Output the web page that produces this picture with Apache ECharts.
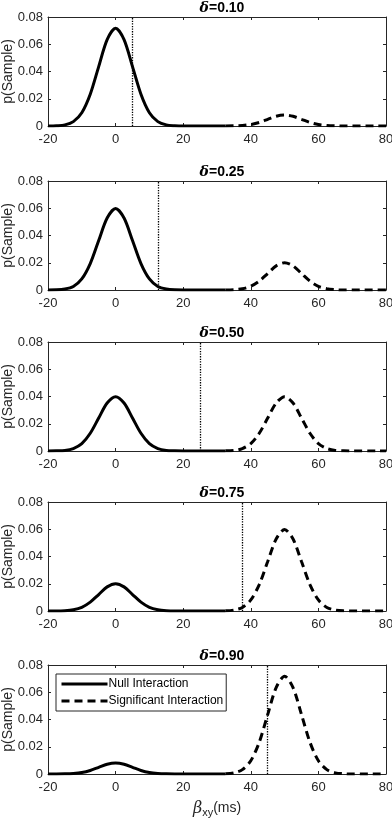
<!DOCTYPE html>
<html>
<head>
<meta charset="utf-8">
<script src="https://cdn.jsdelivr.net/npm/echarts@6/dist/echarts.min.js"></script>
<style>
  html, body { margin: 0; padding: 0; background: #fff; }
  #chart { width: 392px; height: 820px; }
</style>
</head>
<body>
<div id="chart"></div>
<script>
// panel labels (delta) and where the dotted criterion line sits
const DELTAS = ['0.10', '0.25', '0.50', '0.75', '0.90'];
const THRESHOLDS = [5, 12.5, 25, 37.5, 45];

const X_TICKS = [-20, 0, 20, 40, 60, 80];
const Y_TICKS = [0, 0.02, 0.04, 0.06, 0.08];

// x positions of the sampled curves (null: solid, significant: dashed)
const NULL_X = [-20, -17.5, -15, -12.5, -10, -7.5, -5, -2.5, 0, 2.5, 5, 7.5, 10, 12.5, 15, 17.5, 20, 22.5, 25, 27.5, 30, 32.5];
const SIG_X = [32.5, 35, 37.5, 40, 42.5, 45, 47.5, 50, 52.5, 55, 57.5, 60, 62.5, 65, 67.5, 70, 72.5, 75, 77.5, 80];

// null interaction densities, one row per panel
const NULL_010 = [0, 0.0002, 0.0008, 0.0032, 0.0097, 0.0233, 0.0436, 0.0634, 0.0718, 0.0634, 0.0436, 0.0233, 0.0097, 0.0032, 0.0008, 0.0002, 0, 0, 0, 0, 0, 0];
const NULL_025 = [0, 0.0001, 0.0007, 0.0026, 0.0081, 0.0194, 0.0363, 0.0528, 0.0598, 0.0528, 0.0363, 0.0194, 0.0081, 0.0026, 0.0007, 0.0001, 0, 0, 0, 0, 0, 0];
const NULL_050 = [0, 0.0001, 0.0004, 0.0018, 0.0054, 0.0130, 0.0242, 0.0352, 0.0399, 0.0352, 0.0242, 0.0130, 0.0054, 0.0018, 0.0004, 0.0001, 0, 0, 0, 0, 0, 0];
const NULL_075 = [0, 0, 0.0002, 0.0009, 0.0027, 0.0065, 0.0121, 0.0177, 0.0200, 0.0177, 0.0121, 0.0065, 0.0027, 0.0009, 0.0002, 0, 0, 0, 0, 0, 0, 0];
const NULL_090 = [0, 0, 0.0001, 0.0004, 0.0011, 0.0026, 0.0049, 0.0071, 0.0080, 0.0071, 0.0049, 0.0026, 0.0011, 0.0004, 0.0001, 0, 0, 0, 0, 0, 0, 0];

// significant interaction densities
const SIG_010 = [0, 0.0001, 0.0004, 0.0011, 0.0026, 0.0049, 0.0071, 0.0080, 0.0071, 0.0049, 0.0026, 0.0011, 0.0004, 0.0001, 0, 0, 0, 0, 0, 0];
const SIG_025 = [0, 0.0002, 0.0009, 0.0027, 0.0065, 0.0121, 0.0177, 0.0200, 0.0177, 0.0121, 0.0065, 0.0027, 0.0009, 0.0002, 0, 0, 0, 0, 0, 0];
const SIG_050 = [0.0001, 0.0004, 0.0018, 0.0054, 0.0130, 0.0242, 0.0352, 0.0399, 0.0352, 0.0242, 0.0130, 0.0054, 0.0018, 0.0004, 0.0001, 0, 0, 0, 0, 0];
const SIG_075 = [0.0001, 0.0007, 0.0026, 0.0081, 0.0194, 0.0363, 0.0528, 0.0598, 0.0528, 0.0363, 0.0194, 0.0081, 0.0026, 0.0007, 0.0001, 0, 0, 0, 0, 0];
const SIG_090 = [0.0002, 0.0008, 0.0032, 0.0097, 0.0233, 0.0436, 0.0634, 0.0718, 0.0634, 0.0436, 0.0233, 0.0097, 0.0032, 0.0008, 0.0002, 0, 0, 0, 0, 0];

const NULL_ROWS = [NULL_010, NULL_025, NULL_050, NULL_075, NULL_090];
const SIG_ROWS = [SIG_010, SIG_025, SIG_050, SIG_075, SIG_090];

// layout
const GRID_TOPS = [17, 181, 342, 502, 665];
const GRID_H = 109;
const GRID_LEFT = 48;
const GRID_RIGHT = 6;
const INK = '#262626';
const FONT = '"Liberation Sans", Arial, sans-serif';

const chart = echarts.init(document.getElementById('chart'));

const grids = [], xAxes = [], yAxes = [], titles = [], series = [];

GRID_TOPS.forEach((top, k) => {
  grids.push({ left: GRID_LEFT, right: GRID_RIGHT, top: top, height: GRID_H, outerBoundsMode: 'none', containLabel: false });

  const xBase = {
    gridIndex: k, type: 'value',
    min: X_TICKS[0], max: X_TICKS[X_TICKS.length - 1], interval: 20,
    axisLine: { show: true, onZero: false, lineStyle: { color: INK, width: 1 } },
    axisTick: { show: true, inside: true, length: 3, lineStyle: { color: INK } },
    splitLine: { show: false }
  };
  xAxes.push(Object.assign({}, xBase, {
    position: 'bottom',
    axisLabel: { color: INK, fontSize: 13, fontFamily: FONT, margin: 7 },
    name: k === 4 ? '{b|β}{s|xy}{n|(ms)}' : '',
    nameLocation: 'middle',
    nameGap: 25,
    nameMoveOverlap: false,
    nameTextStyle: {
      rich: {
        b: { fontFamily: '"DejaVu Serif", serif', fontStyle: 'italic', fontSize: 16, color: INK },
        s: { fontFamily: FONT, fontSize: 11, color: INK, verticalAlign: 'bottom', padding: [8, 0, 0, 0] },
        n: { fontFamily: FONT, fontSize: 14, color: INK }
      }
    }
  }));
  xAxes.push(Object.assign({}, xBase, {
    position: 'top',
    axisLabel: { show: false }
  }));

  const yBase = {
    gridIndex: k, type: 'value',
    min: Y_TICKS[0], max: Y_TICKS[Y_TICKS.length - 1], interval: 0.02,
    axisLine: { show: true, onZero: false, lineStyle: { color: INK, width: 1 } },
    axisTick: { show: true, inside: true, length: 3, lineStyle: { color: INK } },
    splitLine: { show: false }
  };
  yAxes.push(Object.assign({}, yBase, {
    position: 'left',
    axisLabel: {
      color: INK, fontSize: 13, fontFamily: FONT, margin: 5,
      formatter: v => (Math.abs(v) < 1e-9 ? '0' : v.toFixed(2))
    },
    name: 'p(Sample)',
    nameLocation: 'middle',
    nameGap: 33,
    nameMoveOverlap: false,
    nameTextStyle: { color: INK, fontSize: 14, fontFamily: FONT }
  }));
  yAxes.push(Object.assign({}, yBase, {
    position: 'right',
    axisLabel: { show: false }
  }));

  titles.push({
    text: '{d|δ}{t|=' + DELTAS[k] + '}',
    left: 217,
    textAlign: 'center',
    top: top - 21,
    textStyle: {
      rich: {
        d: { fontFamily: '"DejaVu Serif", serif', fontStyle: 'italic', fontWeight: 'bold', fontSize: 14, color: '#000' },
        t: { fontFamily: FONT, fontWeight: 'bold', fontSize: 14, color: '#000' }
      }
    }
  });

  series.push({
    name: 'Null Interaction',
    type: 'line',
    xAxisIndex: 2 * k, yAxisIndex: 2 * k,
    data: NULL_X.map((x, i) => [x, NULL_ROWS[k][i]]),
    symbol: 'none', smooth: 0.3,
    itemStyle: { color: '#000' },
    lineStyle: { color: '#000', width: 3 },
    markLine: {
      silent: true, symbol: 'none', animation: false,
      label: { show: false },
      lineStyle: { color: '#000', width: 1.3, type: [1.3, 1.3] },
      data: [{ xAxis: THRESHOLDS[k] }]
    },
    animation: false
  });
  series.push({
    name: 'Significant Interaction',
    type: 'line',
    xAxisIndex: 2 * k, yAxisIndex: 2 * k,
    data: SIG_X.map((x, i) => [x, SIG_ROWS[k][i]]),
    symbol: 'none', smooth: 0.3,
    itemStyle: { color: '#000' },
    lineStyle: { color: '#000', width: 3, type: [8, 5] },
    animation: false
  });
});

chart.setOption({
  animation: false,
  title: titles,
  grid: grids,
  xAxis: xAxes,
  yAxis: yAxes,
  legend: {
    orient: 'vertical',
    left: 56, top: 674,
    backgroundColor: '#fff',
    borderColor: INK, borderWidth: 1,
    padding: [4, 3, 4, 4],
    itemWidth: 46, itemHeight: 12, itemGap: 5,
    itemStyle: { opacity: 0 },
    textStyle: { color: '#000', fontSize: 12, fontFamily: FONT, padding: [0, 0, 0, -4] },
    data: [
      { name: 'Null Interaction', lineStyle: { width: 3, type: 'solid' } },
      { name: 'Significant Interaction', lineStyle: { width: 3, type: [8, 5] } }
    ]
  },
  series: series
});
</script>
</body>
</html>
